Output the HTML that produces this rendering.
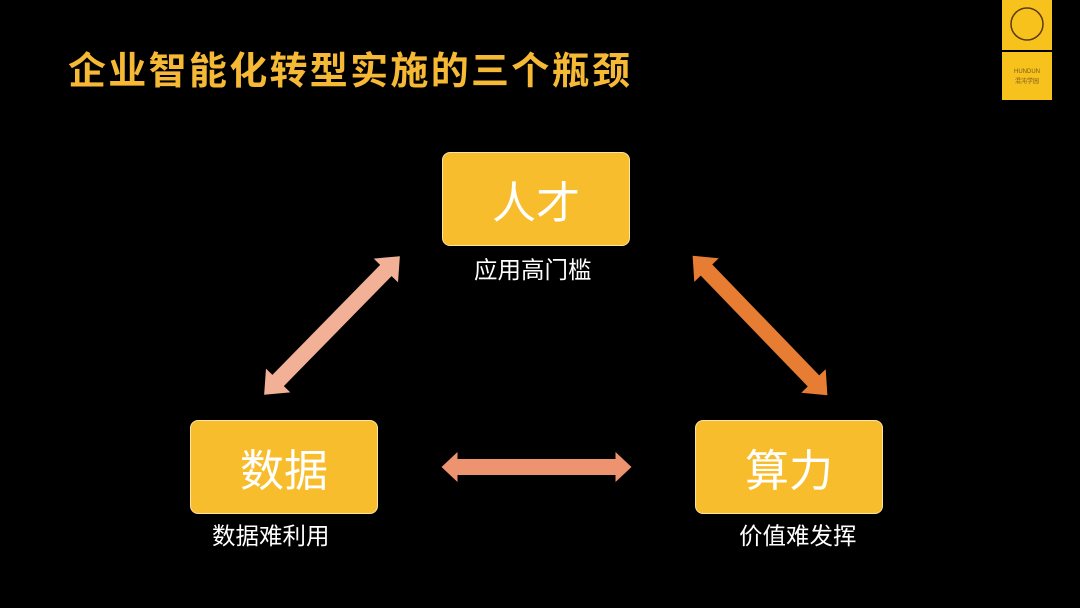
<!DOCTYPE html>
<html><head><meta charset="utf-8"><style>
body{margin:0;width:1080px;height:608px;background:#000;overflow:hidden;position:relative;font-family:"Liberation Sans","Noto Sans CJK SC",sans-serif}
.t{position:absolute;left:68px;top:48px;font-size:38px;line-height:48px;font-weight:bold;color:#f6b935;letter-spacing:2.3px;white-space:nowrap}
.box{position:absolute;width:186px;height:92px;background:#f8bd2c;border:1.5px solid #fbe3a0;border-radius:8px;color:#fff;font-size:44px;display:flex;align-items:center;justify-content:center}
.lbl{position:absolute;color:#fff;font-size:23.5px;line-height:30px}
</style></head><body>
<div class="t">企业智能化转型实施的三个瓶颈</div>
<div style="position:absolute;left:1002px;top:0;width:50px;height:50px;background:#f8c21c"></div>
<svg style="position:absolute;left:1002px;top:0" width="50" height="50"><circle cx="25" cy="24" r="16" fill="none" stroke="#5a3a10" stroke-width="1.5"/></svg>
<div style="position:absolute;left:1002px;top:52px;width:50px;height:48px;background:#f8c21c;color:#7a5a20;font-size:6px;text-align:center;line-height:10px;padding-top:15px;box-sizing:border-box">HUNDUN<br>混沌学园</div>
<div class="box" style="left:442px;top:152px">人才</div>
<div class="box" style="left:190px;top:420px">数据</div>
<div class="box" style="left:695px;top:420px">算力</div>
<div class="lbl" style="left:474px;top:255px">应用高门槛</div>
<div class="lbl" style="left:212px;top:521px">数据难利用</div>
<div class="lbl" style="left:739px;top:521px">价值难发挥</div>
<svg style="position:absolute;left:0;top:0" width="1080" height="608">
<polygon transform="translate(332,325.5) rotate(-45.6)" fill="#f2b096" points="-97,0 -77,-17 -77,-8 77,-8 77,-17 97,0 77,17 77,8 -77,8 -77,17"/>
<polygon transform="translate(760,325.5) rotate(46)" fill="#e67d33" points="-97,0 -77,-17 -77,-8 77,-8 77,-17 97,0 77,17 77,8 -77,8 -77,17"/>
<polygon transform="translate(536.5,467)" fill="#ee9370" points="-95,0 -79,-15 -79,-8 79,-8 79,-15 95,0 79,15 79,8 -79,8 -79,15"/>
</svg>
</body></html>
